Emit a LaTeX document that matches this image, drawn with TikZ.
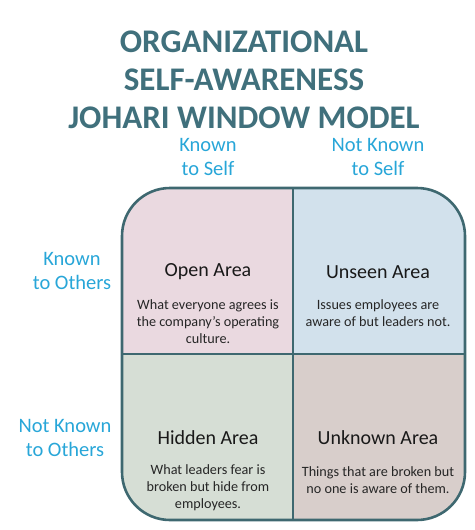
\documentclass[tikz,border=0pt]{standalone}
\usepackage{fontspec}
\setmainfont{Carlito}
\usepackage{xcolor}
\definecolor{titleteal}{RGB}{64,112,124}
\definecolor{edgeteal}{RGB}{62,104,112}
\definecolor{labelblue}{RGB}{40,166,216}
\definecolor{openpink}{RGB}{234,217,224}
\definecolor{unseenblue}{RGB}{210,225,236}
\definecolor{hiddengreen}{RGB}{214,222,213}
\definecolor{unknownbrown}{RGB}{216,206,203}
\usetikzlibrary{positioning}

\begin{document}
\begin{tikzpicture}[
  x=1pt, y=-1pt,
  title/.style={align=center, text=titleteal,
                font=\fontsize{33}{38}\selectfont\bfseries},
  axislabel/.style={align=center, text=labelblue,
                    font=\fontsize{20.5}{24}\selectfont},
  areaname/.style={text=black!90, font=\fontsize{20}{23}\selectfont},
  desc/.style={align=center, text=black!85,
               font=\fontsize{14.2}{17}\selectfont},
  divider/.style={draw=edgeteal, line width=2pt}
]
  \useasboundingbox (0,0) rectangle (474,530);
  % quadrant fills, clipped to the rounded window
  \begin{scope}
    \clip[rounded corners=48pt] (122,188) rectangle (465,520);
    \fill[openpink] (122,188) rectangle (293,354);
    \fill[unseenblue] (293,188) rectangle (465,354);
    \fill[hiddengreen] (122,354) rectangle (293,520);
    \fill[unknownbrown] (293,354) rectangle (465,520);
  \end{scope}
  \draw[edgeteal, line width=2.6pt, rounded corners=48pt] (122,188) rectangle (465,520);
  \coordinate (vtop) at (293,188);
  \coordinate (vbot) at (293,520);
  \coordinate (hleft) at (122,354);
  \coordinate (hright) at (465,354);
  \draw[divider] (vtop) -- (vbot);
  \draw[divider] (hleft) -- (hright);

  \node[title] (head) at (244,80) {ORGANIZATIONAL\\SELF-AWARENESS\\JOHARI WINDOW MODEL};

  \node[axislabel] (kself) at (208,157) {Known\\to Self};
  \node[axislabel] (nkself) at (378,157) {Not Known\\to Self};
  \node[axislabel] (kothers) at (72,271) {Known\\to Others};
  \node[axislabel] (nkothers) at (65,438) {Not Known\\to Others};

  \node[areaname] (open) at (208,272) {Open Area};
  \node[areaname] (unseen) at (378,272) {Unseen Area};
  \node[areaname] (hidden) at (208,438) {Hidden Area};
  \node[areaname] (unknown) at (378,438) {Unknown Area};

  \node[desc] (opendesc) at (208,322) {What everyone agrees is\\the company’s operating\\culture.};
  \node[desc] (unseendesc) at (378,313) {Issues employees are\\aware of but leaders not.};
  \node[desc] (hiddendesc) at (208,488) {What leaders fear is\\broken but hide from\\employees.};
  \node[desc] (unknowndesc) at (378,480) {Things that are broken but\\no one is aware of them.};
\end{tikzpicture}
\end{document}
